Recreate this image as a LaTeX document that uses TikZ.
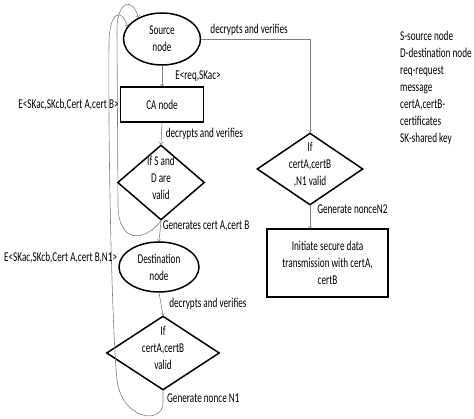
\documentclass[tikz,border=0pt]{standalone}
\usepackage{fontspec}
\setmainfont{Carlito}[FakeStretch=0.68]
\usetikzlibrary{shapes.geometric}
\newcommand{\dtext}[1]{\smash{\makebox[0pt]{\begin{tabular}{@{}c@{}}#1\end{tabular}}}}

\begin{document}
\begin{tikzpicture}[x=1pt,y=-1pt,
  every node/.style={font=\fontsize{13.5}{17}\selectfont},
  box/.style={draw=black, line width=1.5pt, rectangle, align=center},
  oval/.style={draw=black, line width=1.5pt, ellipse, align=center, inner sep=1pt},
  dia/.style={draw=black, line width=1.5pt, diamond, inner sep=0pt},
  flow/.style={gray, line width=0.6pt, ->},
  txt/.style={inner sep=1pt, text=black}]

\useasboundingbox (0,0) rectangle (474,419);

% left column
\node[oval, minimum width=77pt, minimum height=52pt] (src) at (162,39) {Source\\node};
\node[box, minimum width=83pt, minimum height=35pt] (ca) at (162,104.5) {CA node};
\node[dia, minimum width=87pt, minimum height=75pt] (chk1) at (161,182.5) {\dtext{If S and\\D are\\valid}};
\node[oval, minimum width=80pt, minimum height=50pt] (dst) at (159,267) {Destination\\node};
\node[dia, minimum width=113pt, minimum height=74pt] (chk2) at (163,353) {\dtext{If\\certA,certB\\valid}};

% right column
\node[dia, minimum width=106pt, minimum height=72pt] (chk3) at (310,169) {\dtext{If\\certA,certB\\,N1 valid}};
\node[box, minimum width=121pt, minimum height=68pt] (tx) at (327.5,263) {Initiate secure data\\transmission with certA,\\certB};

% key
\node[anchor=north west, align=left, inner sep=0pt] (key) at (400,31) {S-source node\\D-destination node\\req-request\\message\\certA,certB-\\certificates\\SK-shared key};

% arrows
\draw[flow] (src.south) -- (ca.north) node[midway, right=12pt, txt] (m1) {E<req,SKac>};
\draw[flow] (ca.south) -- (chk1.north) node[midway, right=3pt, txt] (m2) {decrypts and verifies};
\draw[flow] (chk1.south) -- (dst.north) node[pos=0.25, right=1pt, txt] (m3) {Generates cert A,cert B};
\draw[flow] (dst.south) -- (chk2.north) node[midway, right=7pt, txt] (m4) {decrypts and verifies};
\draw[flow] (src.east) -| (chk3.north) node[pos=0.22, above=2pt, txt] (m5) {decrypts and verifies};
\draw[flow] (chk3.south) -- (chk3.south |- tx.north) node[pos=0.15, right=6pt, txt] (m6) {Generate nonceN2};

% loops back to the source
\draw[flow] (chk1.south) .. controls (145,242) and (118,244) .. (118,205) -- (117,30) .. controls (117,0) and (133,-3) .. (src.138);
\draw[flow] (chk2.south) -- ++(0,12) .. controls (163,425) and (122,420) .. (117,380) .. controls (112,330) and (108,150) .. (109,45) .. controls (109,10) and (122,8) .. (src.160);
\node[anchor=west, txt] (g1) at ([xshift=3pt,yshift=-7pt]chk2.south) {Generate nonce N1};
\node[anchor=east, txt] (k1) at (ca.west) {E<SKac,SKcb,Cert A,cert B>};
\node[anchor=east, txt] (k2) at ([yshift=9pt]dst.west) {E<SKac,SKcb,Cert A,cert B,N1>};

\end{tikzpicture}
\end{document}
